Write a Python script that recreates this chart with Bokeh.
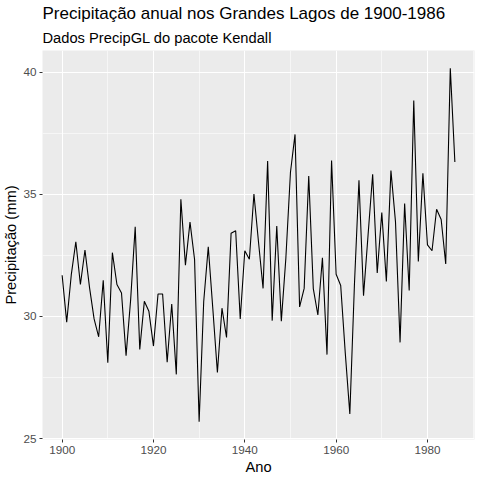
from bokeh.plotting import figure
from bokeh.models import Range1d, Title, FixedTicker
from bokeh.embed import file_html
from bokeh.resources import INLINE

years = list(range(1900, 1987))
precip = [31.69, 29.77, 31.70, 33.06, 31.31, 32.72, 31.18, 29.90, 29.17, 31.48,
          28.11, 32.61, 31.31, 30.96, 28.40, 30.68, 33.67, 28.65, 30.62, 30.21,
          28.79, 30.92, 30.92, 28.13, 30.51, 27.63, 34.80, 32.10, 33.86, 32.33,
          25.69, 30.60, 32.85, 30.31, 27.71, 30.34, 29.14, 33.41, 33.51, 29.90,
          32.69, 32.34, 35.01, 33.05, 31.15, 36.36, 29.83, 33.70, 29.81, 32.41,
          35.90, 37.45, 30.39, 31.15, 35.75, 31.14, 30.06, 32.40, 28.44, 36.38,
          31.73, 31.27, 28.51, 26.01, 31.27, 35.57, 30.85, 33.35, 35.82, 31.78,
          34.25, 31.43, 35.97, 33.87, 28.94, 34.62, 31.06, 38.84, 32.25, 35.86,
          32.93, 32.69, 34.39, 33.97, 32.15, 40.16, 36.32]
x_ticks = [1900, 1920, 1940, 1960, 1980]
y_ticks = [25, 30, 35, 40]

FONT = "Liberation Sans"

xpad = (max(years) - min(years)) * 0.05
ypad = (max(precip) - min(precip)) * 0.05

p = figure(width=480, height=480, output_backend="svg", toolbar_location=None,
           x_range=Range1d(min(years) - xpad, max(years) + xpad),
           y_range=Range1d(min(precip) - ypad, max(precip) + ypad),
           min_border_left=40, min_border_right=6, min_border_top=49, min_border_bottom=41)
p.title = None
p.add_layout(Title(text="Dados PrecipGL do pacote Kendall", text_font=FONT,
                   text_font_size="14.7px", text_font_style="normal",
                   text_color="black", align="left", standoff=9), "above")
p.add_layout(Title(text="Precipitação anual nos Grandes Lagos de 1900-1986", text_font=FONT,
                   text_font_size="17px", text_font_style="normal",
                   text_color="black", align="left", standoff=2), "above")

p.background_fill_color = "#EBEBEB"
p.border_fill_color = "white"
p.outline_line_color = None

p.line(years, precip, line_color="black", line_width=1.1)

for ax in (p.xaxis, p.yaxis):
    ax.axis_line_color = None
    ax.major_tick_line_color = "#333333"
    ax.major_tick_in = 0
    ax.major_tick_out = 3
    ax.minor_tick_line_color = None
    ax.major_label_text_font = FONT
    ax.major_label_text_font_size = "11.7px"
    ax.major_label_text_color = "#4D4D4D"
    ax.axis_label_text_font = FONT
    ax.axis_label_text_font_size = "14.7px"
    ax.axis_label_text_font_style = "normal"
    ax.axis_label_text_color = "black"
    ax.major_label_standoff = 2

p.xaxis.ticker = FixedTicker(ticks=x_ticks, minor_ticks=[1910, 1930, 1950, 1970, 1990])
p.yaxis.ticker = FixedTicker(ticks=y_ticks, minor_ticks=[27.5, 32.5, 37.5])
p.xaxis.axis_label = "Ano"
p.yaxis.axis_label = "Precipitação (mm)"
p.xaxis.axis_label_standoff = 2
p.yaxis.axis_label_standoff = 1

for g in (p.xgrid, p.ygrid):
    g.grid_line_color = "white"
    g.grid_line_width = 1.1
    g.minor_grid_line_color = "white"
    g.minor_grid_line_width = 0.55

open("out.html", "w").write(file_html(p, INLINE))
